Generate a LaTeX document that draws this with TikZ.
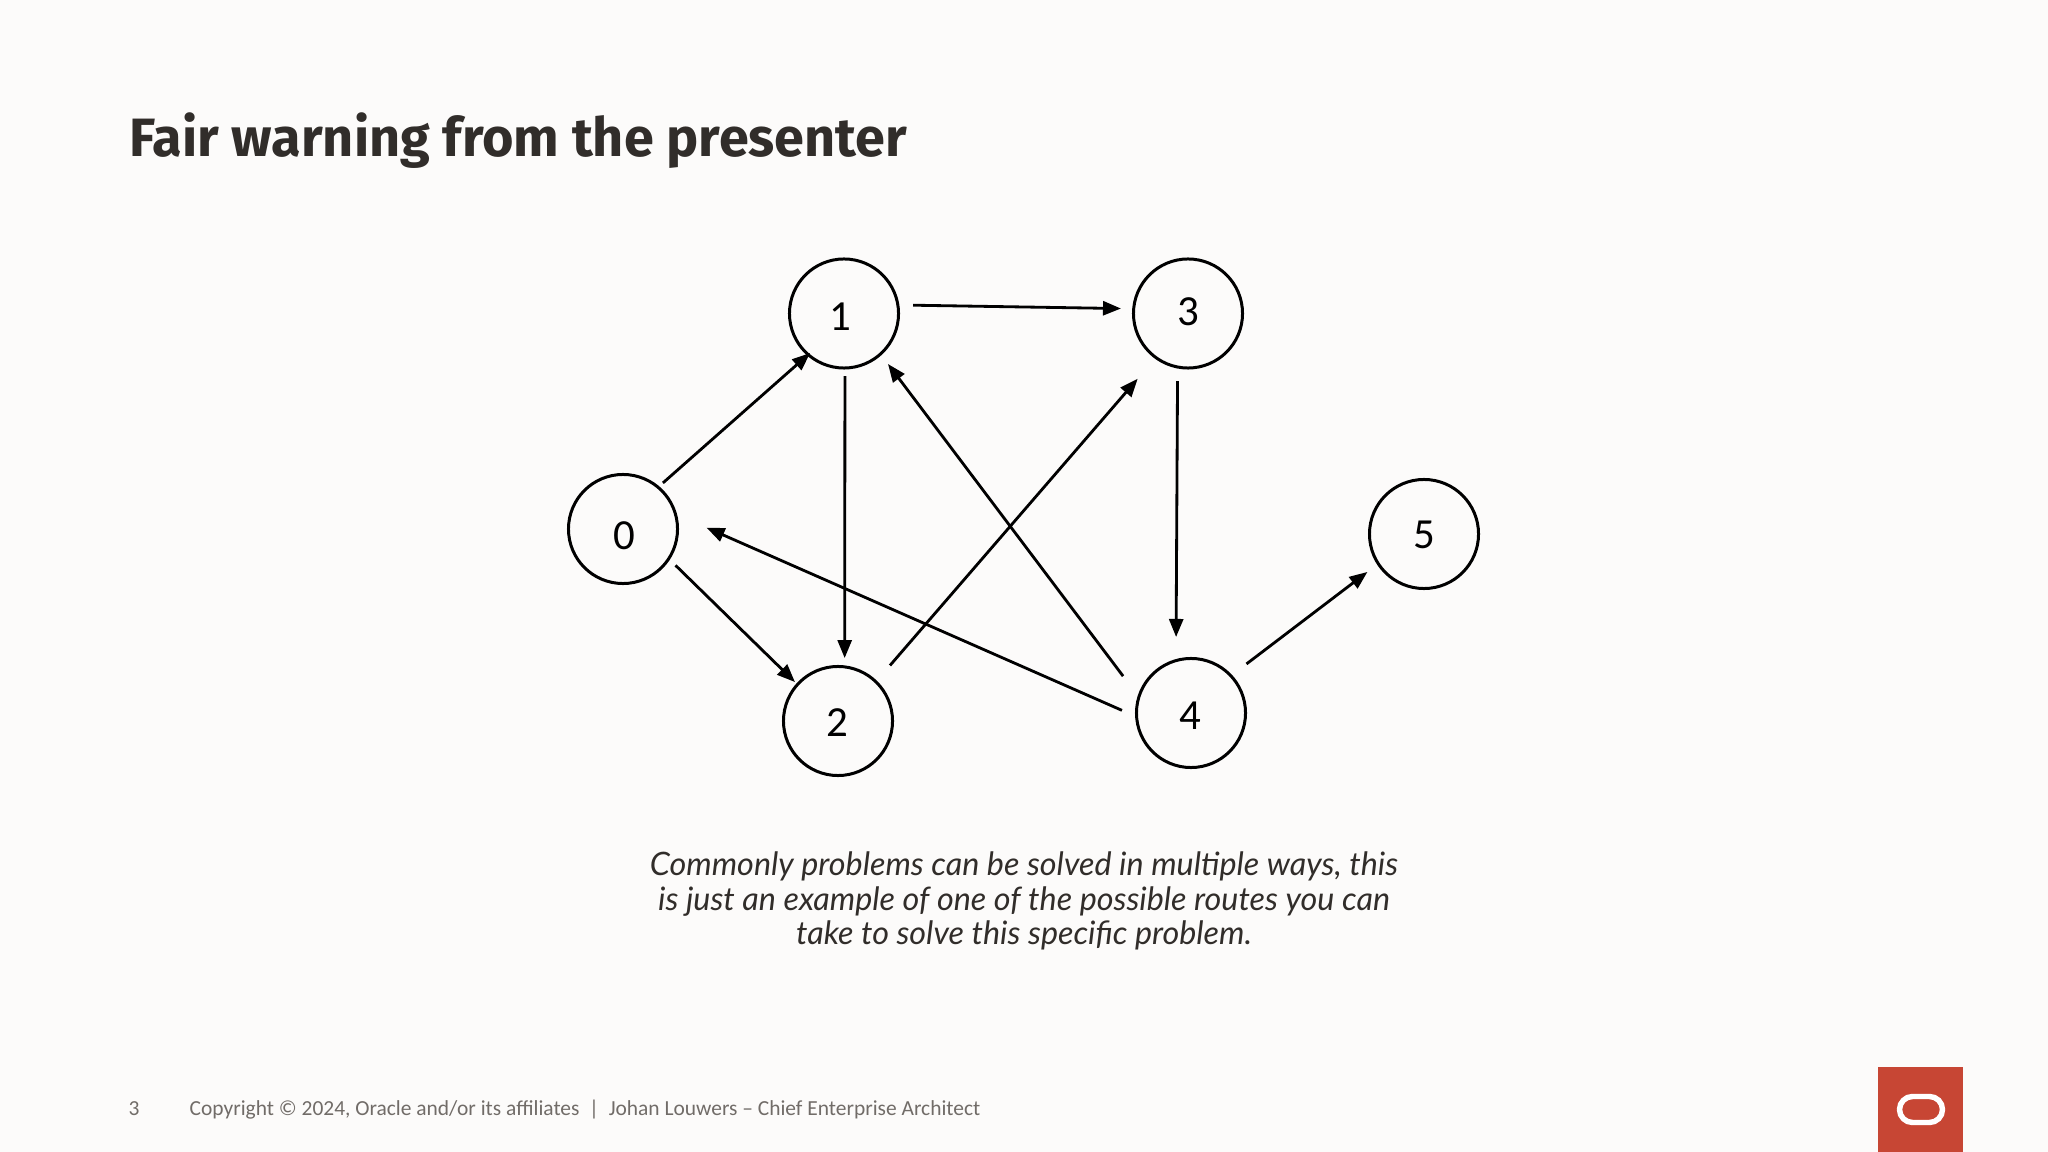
\documentclass[tikz,border=0pt]{standalone}
\usepackage{fontspec}
\setmainfont{Carlito}
\newfontfamily\titlefont{Fira Sans}
\newfontfamily\slidefont{Lato}
\usetikzlibrary{arrows.meta}
\definecolor{pagebg}{HTML}{FCFBFA}
\definecolor{inkdark}{HTML}{312D2A}
\definecolor{inkgrey}{HTML}{716C68}
\definecolor{logored}{HTML}{C74634}
\tikzset{
	vertex/.style={draw=black, circle, line width=0.85pt, minimum size=1.09cm, inner sep=0pt, outer sep=0pt},
	digit/.style={inner sep=0pt, font=\fontsize{12.2}{12.2}\selectfont},
	link/.style={->, line width=0.8pt, draw=black},
	gap/.style 2 args={shorten <=#1*0.01cm, shorten >=#2*0.01cm},
	footer/.style={anchor=base west, inner sep=0pt, text=inkgrey, font=\fontsize{6.1}{6.1}\selectfont}
}

\begin{document}
\begin{tikzpicture}[x=0.01cm, y=-0.01cm, >={Stealth[length=0.18cm, width=0.14cm, inset=0pt]}]
	\fill[pagebg] (0,0) rectangle (2048,1152);
	
	%title
	\node[anchor=base west, inner sep=0pt, text=inkdark, font=\titlefont\bfseries\fontsize{15.35}{15.35}\selectfont] (title) at (129,156.5) {Fair warning from the presenter};
	
	%vertices
	\node[vertex, label={[digit, shift={(1,6.7)}]center:0}] (n0) at (623,529) {};
	\node[vertex, label={[digit, shift={(-3.7,3)}]center:1}] (n1) at (844,313.5) {};
	\node[vertex, label={[digit, shift={(-1,2)}]center:2}] (n2) at (838,721) {};
	\node[vertex, label={[digit, shift={(0,-2)}]center:3}] (n3) at (1188,313.5) {};
	\node[vertex, label={[digit, shift={(-1,2.5)}]center:4}] (n4) at (1191,713) {};
	\node[vertex, label={[digit, shift={(0,1)}]center:5}] (n5) at (1424,534) {};
	
	%edges
	\draw[link, gap={6.5}{-2.5}] (n0.50) -- (n1.229);
	\draw[link, gap={9.5}{3.5}] (n0.-33) -- (n2.138);
	\draw[link, gap={8}{8.8}] (n1.-89) -- (n2.83.7);
	\draw[link, gap={15.2}{12.7}] (n1.9) -- (n3.175.8);
	\draw[link, gap={21.6}{28}] (n2.46.8) -- (n3.234.6);
	\draw[link, gap={14}{23.6}] (n3.259.9) -- (n4.106.7);
	\draw[link, gap={26.2}{12.5}] (n4.163.4) -- (n1.-48);
	\draw[link, gap={16}{34}] (n4.184.1) -- (n0.16.2);
	\draw[link, gap={19.6}{13.6}] (n4.43.8) -- (n5.213.2);
	
	%caption
	\node[align=center, inner sep=0pt, text=inkdark, font=\slidefont\itshape\fontsize{9.18}{9.9}\selectfont] (caption) at (1024,901) {Commonly problems can be solved in multiple ways, this\\is just an example of one of the possible routes you can\\take to solve this specific problem.};
	
	%footer
	\node[footer] (pagenum) at (128,1115) {3};
	\node[footer] (copyright) at (189,1115) {Copyright © 2024, Oracle and/or its affiliates~~|~~Johan Louwers – Chief Enterprise Architect};
	
	%logo
	\fill[logored] (1878,1067) rectangle (1963,1152);
	\draw[white, line width=1.55pt, rounded corners=0.13cm] (1899.5,1096.5) rectangle (1942.5,1122.5);
\end{tikzpicture}
\end{document}
